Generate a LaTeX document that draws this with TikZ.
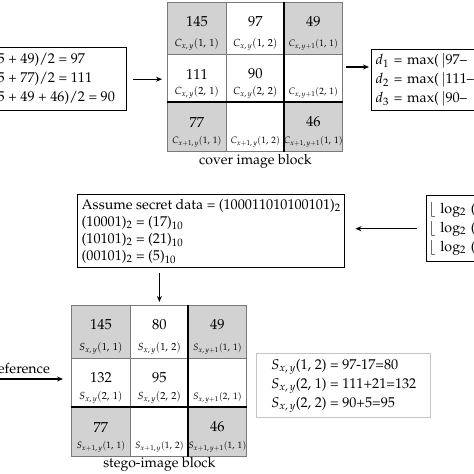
\documentclass[tikz,border=0pt]{standalone}
\usepackage[T1]{fontenc}
\usepackage{mathpazo}
\usetikzlibrary{arrows.meta}
\definecolor{cellgray}{HTML}{D2D2D2}
\definecolor{gridline}{HTML}{7A7A7A}
\definecolor{lightframe}{HTML}{C4C4C4}
\tikzset{
 cell/.style={draw=gridline, line width=0.8pt, inner sep=0pt, anchor=north west},
 grayc/.style={cell, fill=cellgray},
 whitec/.style={cell, fill=white},
 num/.style={font=\fontsize{14.5}{16}\selectfont, inner sep=0pt},
 lab/.style={font=\fontsize{10.3}{12}\selectfont, inner sep=0pt},
 smalllab/.style={font=\fontsize{9.3}{11}\selectfont},
 sepline/.style={line width=2pt, black},
 box/.style={draw=black, line width=1.4pt, align=left, anchor=north west, inner sep=4pt, font=\fontsize{14.2}{19}\selectfont},
 arr/.style={line width=1.1pt, -{Stealth[length=6pt,width=5pt]}},
 blockcap/.style={font=\fontsize{14}{16}\selectfont, inner sep=0pt},
}
\newcommand{\gridcell}[9]{%
 \node[#6, minimum width=#4pt, minimum height=#5pt] (#1) at (#2,#3) {};
 \node[num] (#1n) at ([yshift=-20pt]#1.north) {#7};
 \node[lab,#9] (#1l) at ([yshift=10pt]#1.south) {#8};
}
\begin{document}
\begin{tikzpicture}[x=1pt,y=-1pt]
\useasboundingbox (0,0) rectangle (474,474);
\clip (0,0) rectangle (474,474);
% cover image block
\gridcell{c11}{167}{2}{59}{52}{grayc}{145}{$C_{x,\,y}(1,\,1)$}{}
\gridcell{c12}{226}{2}{58}{52}{whitec}{97}{$C_{x,\,y}(1,\,2)$}{}
\gridcell{c13}{284}{2}{58}{52}{grayc}{49}{$C_{x,\,y+1}(1,\,1)$}{smalllab}
\gridcell{c21}{167}{54}{59}{48}{whitec}{111}{$C_{x,\,y}(2,\,1)$}{}
\gridcell{c22}{226}{54}{58}{48}{whitec}{90}{$C_{x,\,y}(2,\,2)$}{}
\gridcell{c23}{284}{54}{58}{48}{whitec}{}{$C_{x,\,y+1}(2,\,1)$}{smalllab}
\gridcell{c31}{167}{102}{59}{49}{grayc}{77}{$C_{x+1,\,y}(1,\,1)$}{smalllab}
\gridcell{c32}{226}{102}{58}{49}{whitec}{}{$C_{x+1,\,y}(1,\,2)$}{smalllab}
\gridcell{c33}{284}{102}{58}{49}{grayc}{46}{$C_{x+1,\,y+1}(1,\,1)$}{smalllab}
\draw[sepline] (c13.north west) -- (c33.south west);
\draw[sepline] (c31.north west) -- (c33.north east);
\node[blockcap] (covercap) at ([yshift=-10pt]c32.south) {cover image block};
% stego image block
\gridcell{s11}{71}{305}{59}{53}{grayc}{145}{$S_{x,\,y}(1,\,1)$}{}
\gridcell{s12}{130}{305}{58}{53}{whitec}{80}{$S_{x,\,y}(1,\,2)$}{}
\gridcell{s13}{188}{305}{58}{53}{grayc}{49}{$S_{x,\,y+1}(1,\,1)$}{smalllab}
\gridcell{s21}{71}{358}{59}{49}{whitec}{132}{$S_{x,\,y}(2,\,1)$}{}
\gridcell{s22}{130}{358}{58}{49}{whitec}{95}{$S_{x,\,y}(2,\,2)$}{}
\gridcell{s23}{188}{358}{58}{49}{whitec}{}{$S_{x,\,y+1}(2,\,1)$}{smalllab}
\gridcell{s31}{71}{407}{59}{49}{grayc}{77}{$S_{x+1,\,y}(1,\,1)$}{smalllab}
\gridcell{s32}{130}{407}{58}{49}{whitec}{}{$S_{x+1,\,y}(1,\,2)$}{smalllab}
\gridcell{s33}{188}{407}{58}{49}{grayc}{46}{$S_{x+1,\,y+1}(1,\,1)$}{smalllab}
\draw[sepline] (s13.north west) -- (s33.south west);
\draw[sepline] (s31.north west) -- (s33.north east);
\node[blockcap] (stegocap) at ([yshift=-8pt]s32.south) {stego-image block};
% boxes
\node[box, anchor=north east, minimum width=140pt, minimum height=63pt] (avg) at (127,47)
 {5 + 49)/2 = 97\\5 + 77)/2 = 111\\5 + 49 + 46)/2 = 90};
\node[box, text width=150pt, minimum height=60pt] (dbox) at (371,49)
 {$d_1$ = max(\,$|$97--\\$d_2$ = max(\,$|$111--\\$d_3$ = max(\,$|$90--};
\node[box, inner sep=2pt, text width=80pt, minimum height=66pt] (logbox) at (426,195)
 {$\lfloor$ log$_2$ (\\$\lfloor$ log$_2$ (\\$\lfloor$ log$_2$ (};
\node[box, font=\fontsize{14.2}{17}\selectfont, minimum height=73pt] (secret) at (77,194)
 {Assume secret data = (100011010100101)$_2$\\(10001)$_2$ = (17)$_{10}$\\(10101)$_2$ = (21)$_{10}$\\(00101)$_2$ = (5)$_{10}$};
\node[box, draw=lightframe, minimum width=174pt, minimum height=64pt] (sbox) at (256,353)
 {$S_{x,\,y}$(1, 2) = 97-17=80\\$S_{x,\,y}$(2, 1) = 111+21=132\\$S_{x,\,y}$(2, 2) = 90+5=95};
\node[blockcap, font=\fontsize{14.2}{15}\selectfont, anchor=east] (reftext) at (50,369) {eference};
\coordinate (refstart) at (-5,379);
% connectors
\draw[arr, shorten <=6pt, shorten >=5pt] (avg.east) -- (c21.west |- avg.east);
\draw[arr, shorten <=3pt, shorten >=2pt] (c13.east |- 0,67) -- (dbox.west |- 0,67);
\draw[arr, shorten <=9pt, shorten >=10pt] (logbox.west) -- (secret.east |- logbox.west);
\draw[arr, shorten <=5pt, shorten >=3pt] (secret.south -| s12.north) -- (s12.north);
\draw[arr, shorten >=8pt] (refstart) -- (s21.west |- refstart);
\end{tikzpicture}
\end{document}
